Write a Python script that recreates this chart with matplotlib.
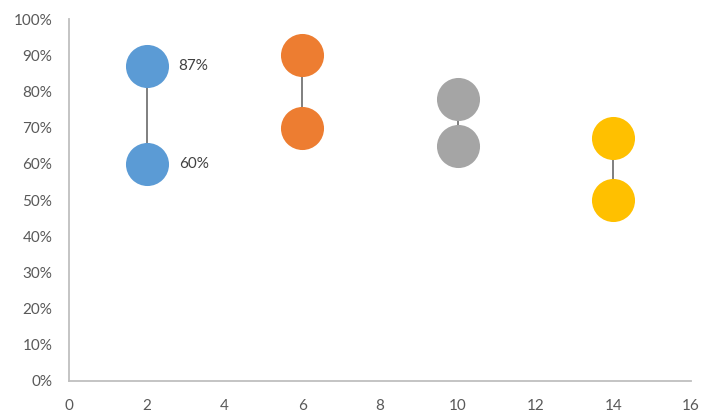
import matplotlib.pyplot as plt
from matplotlib.ticker import PercentFormatter

# Data
x_pos = [2, 6, 10, 14]
high = [0.87, 0.90, 0.78, 0.67]
low = [0.60, 0.70, 0.65, 0.50]
colors = ['#5B9BD5', '#ED7D31', '#A5A5A5', '#FFC000']
labelled = [True, False, False, False]

plt.rcParams['font.family'] = ['Lato', 'DejaVu Sans']

fig = plt.figure(figsize=(7.09, 4.18), dpi=100)
ax = fig.add_axes([69 / 709, 1 - 381 / 418, 622 / 709, 362 / 418])

for x, hi, lo, c, lab in zip(x_pos, high, low, colors, labelled):
    ax.plot([x, x], [lo, hi], color='#7F7F7F', lw=1.4, zorder=1)
    ax.plot([x, x], [hi, lo], 'o', color=c, markersize=31, markeredgewidth=0, zorder=2)
    if lab:
        for v in (hi, lo):
            ax.annotate(f"{v:.0%}", (x, v), xytext=(23, 0), textcoords='offset points',
                        va='center', ha='left', fontsize=11, color='#404040')

ax.set_xlim(0, 16)
ax.set_ylim(0, 1)
ax.set_xticks(range(0, 17, 2))
ax.set_yticks([i / 10 for i in range(11)])
ax.yaxis.set_major_formatter(PercentFormatter(1.0, decimals=0))
ax.tick_params(length=0, labelsize=11, labelcolor='#595959')
ax.tick_params(axis='y', pad=12)
ax.tick_params(axis='x', pad=13)
for s in ('top', 'right'):
    ax.spines[s].set_visible(False)
for s in ('left', 'bottom'):
    ax.spines[s].set_color('#BFBFBF')
    ax.spines[s].set_linewidth(1.3)

fig.savefig('out.png', dpi=100)
